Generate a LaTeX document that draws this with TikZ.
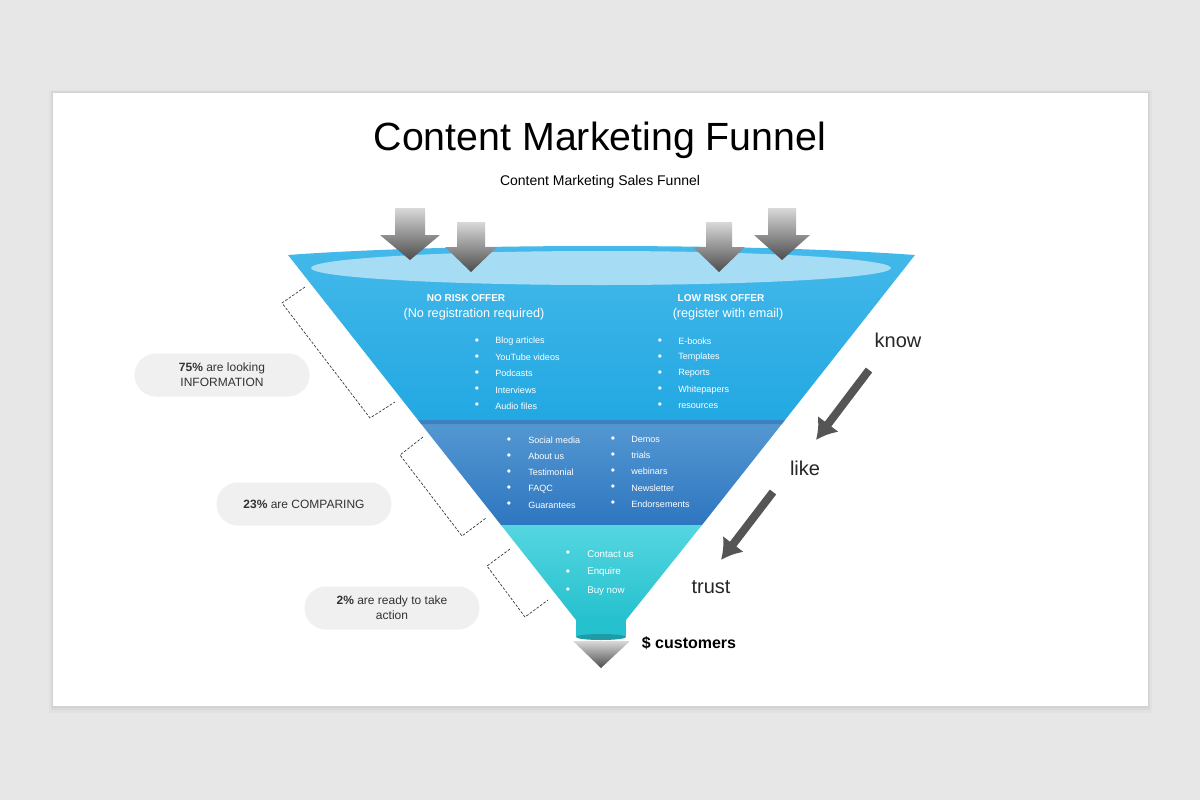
\documentclass[tikz,border=0pt]{standalone}
\usepackage{fontspec}
\setmainfont{Liberation Sans}
\usetikzlibrary{arrows.meta}
\definecolor{bg}{HTML}{E8E7E8}
\definecolor{pill}{HTML}{F0F0F0}
\definecolor{sOneTop}{HTML}{45B9EA}
\definecolor{sOneBot}{HTML}{22A8E2}
\definecolor{sTwoTop}{HTML}{5599D2}
\definecolor{sTwoBot}{HTML}{2E76C0}
\definecolor{sThrTop}{HTML}{55D6E0}
\definecolor{sThrBot}{HTML}{25C1CE}
\definecolor{rim}{HTML}{A7DDF4}
\definecolor{arrowgray}{HTML}{555555}
\tikzset{
  x=0.75pt,y=-0.75pt,
  pillbox/.style={fill=pill,rounded corners=21.5*0.75pt,minimum width=175*0.75pt,minimum height=43*0.75pt,align=center,font=\fontsize{9}{11}\selectfont,text=black!80},
  bracketline/.style={dashed,dash pattern=on 2pt off 1.2pt,line width=0.5pt,black!80},
  wt/.style={text=white,font=\fontsize{6.8}{8}\selectfont,anchor=west,inner sep=0},
  bul/.style={text=white,font=\fontsize{9}{8}\selectfont,inner sep=0},
  topar/.style={top color=gray!30,bottom color=black!70},
  stage/.style={font=\fontsize{15}{17}\selectfont,text=black!85},
  stagearrow/.style={draw=arrowgray,line width=6pt,-{Latex[length=15pt,width=20pt]}},
}
\begin{document}
\begin{tikzpicture}
\fill[bg] (0,0) rectangle (1200,800);
\useasboundingbox (0,0) rectangle (1200,800);
\fill[black,opacity=0.025] (49,90) rectangle (1152,713);
\fill[black,opacity=0.03] (51,91) rectangle (1150,710);
\fill[black,opacity=0.03] (52,92) rectangle (1149,708);
\fill[white] (53,93) rectangle (1148,706);
\node (title) at (600,140) {\fontsize{29.5}{33}\selectfont Content Marketing Funnel};
\node (sub) at (600,182) {\fontsize{10.5}{12}\selectfont Content Marketing Sales Funnel};
% funnel sections
\shade[top color=sOneTop,bottom color=sOneBot] (288,255) .. controls (450,243) and (750,243) .. (915,255) -- (785,420) -- (418,420) -- cycle;
\shade[top color=sTwoTop,bottom color=sTwoBot] (418,420) -- (785,420) -- (702,525) -- (501,525) -- cycle;
\fill[sTwoBot!90!black,opacity=0.5] (418,420) -- (785,420) -- (782,424) -- (421,424) -- cycle;
\shade[top color=sThrTop,bottom color=sThrBot] (501,525) -- (702,525) -- (626,620) -- (576,620) -- cycle;
\fill[sThrBot] (576,619) rectangle (626,637);
\fill[sThrBot!80!black] (601,637) ellipse (25 and 3);
\fill[rim] (601,268) ellipse (290 and 17);
% bottom arrow
\shade[topar] (573,641) -- (630,641) -- (601,668) -- cycle;
% top arrows
\foreach \cx/\ty/\ay/\sw/\hw in {410/208/260/15/30, 471/222/272/14/26, 719/222/272/13/26, 782/208/260/14/28}{
  \shade[topar] (\cx-\sw,\ty) -- (\cx+\sw,\ty) -- (\cx+\sw,\ay-25) -- (\cx+\hw,\ay-25) -- (\cx,\ay) -- (\cx-\hw,\ay-25) -- (\cx-\sw,\ay-25) -- cycle;
}
% offers
\node[text=white,font=\bfseries\fontsize{7.5}{9}\selectfont] (nro) at (466,298) {NO RISK OFFER};
\node[text=white,font=\fontsize{9.5}{11}\selectfont] (nrr) at (474,314) {(No registration required)};
\node[text=white,font=\bfseries\fontsize{7.5}{9}\selectfont] (lro) at (721,298) {LOW RISK OFFER};
\node[text=white,font=\fontsize{9.5}{11}\selectfont] (lrr) at (728,314) {(register with email)};
\foreach \t [count=\i] in {Blog articles,YouTube videos,Podcasts,Interviews,Audio files}{
  \node[bul] (ab\i) at (477,325+16.2*\i) {•};
  \node[wt] (a\i) at (495,325+16.2*\i) {\t};}
\foreach \t [count=\i] in {E-books,Templates,Reports,Whitepapers,resources}{
  \node[bul] (bb\i) at (660,325+16.2*\i) {•};
  \node[wt] (b\i) at (678,325+16.2*\i) {\t};}
\foreach \t [count=\i] in {Social media,About us,Testimonial,FAQC,Guarantees}{
  \node[bul] (cb\i) at (509,424+16.2*\i) {•};
  \node[wt] (c\i) at (528,424+16.2*\i) {\t};}
\foreach \t [count=\i] in {Demos,trials,webinars,Newsletter,Endorsements}{
  \node[bul] (db\i) at (613,423+16.2*\i) {•};
  \node[wt] (d\i) at (631,423+16.2*\i) {\t};}
\foreach \t [count=\i] in {Contact us,Enquire,Buy now}{
  \node[bul] (eb\i) at (568,535+18.7*\i) {•};
  \node[wt,font=\fontsize{7.3}{9}\selectfont] (e\i) at (587,535+18.7*\i) {\t};}
% pills
\node[pillbox] (p1) at (222,375) {\textbf{75\%} are looking\\INFORMATION};
\node[pillbox] (p2) at (304,504) {\textbf{23\%} are COMPARING};
\node[pillbox] (p3) at (392,608) {\textbf{2\%} are ready to take\\action};
% brackets
\draw[bracketline] (305,287) -- (282,303) -- (370,418) -- (395,402);
\draw[bracketline] (423,437) -- (400,455) -- (462,536) -- (486,518);
\draw[bracketline] (510,549) -- (487,566) -- (525,617) -- (548,600);
% stages
\node[stage] (know) at (898,340) {know};
\node[stage] (like) at (805,468) {like};
\node[stage] (trust) at (711,587) {trust};
\coordinate (k1) at (869,370); \coordinate (k2) at (816,440);
\coordinate (l1) at (773,492); \coordinate (l2) at (721,560);
\draw[stagearrow] (k1) -- (k2);
\draw[stagearrow] (l1) -- (l2);
\node[font=\bfseries\fontsize{12}{14}\selectfont] (cust) at (689,643) {\$ customers};
\end{tikzpicture}
\end{document}
